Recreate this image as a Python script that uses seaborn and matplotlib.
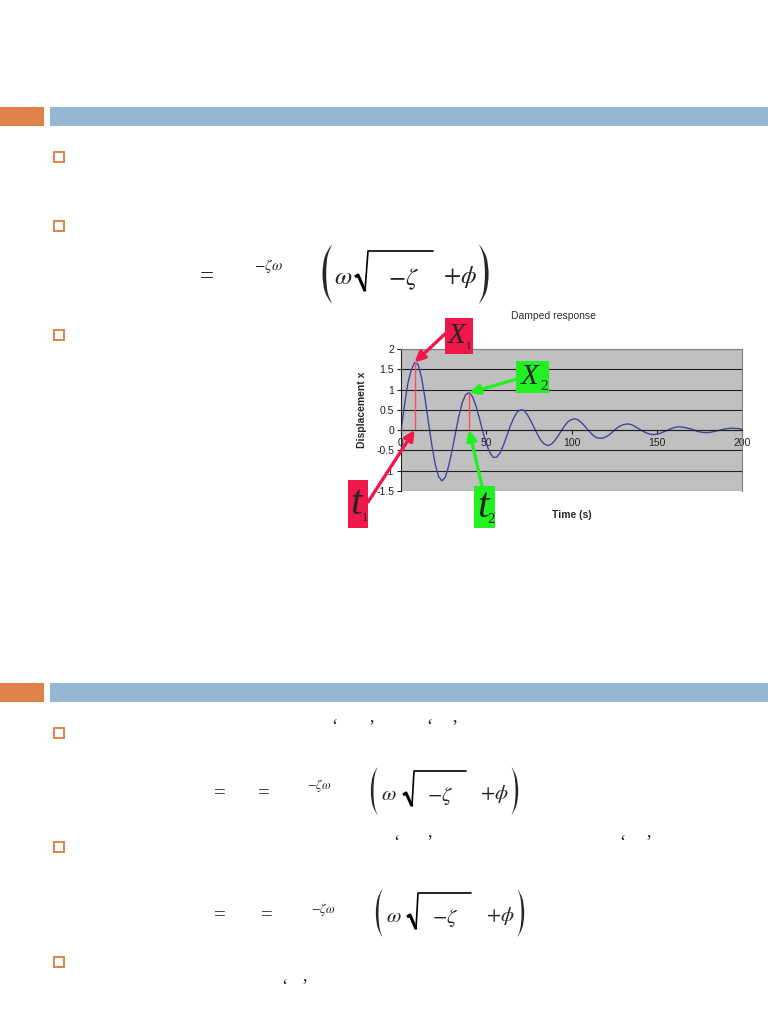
import numpy as np
import matplotlib
matplotlib.use("Agg")
import matplotlib.pyplot as plt
import matplotlib.patheffects as pe
from matplotlib.patches import Rectangle
import seaborn as sns

# Damped response curve (every 2 s)
time_s = list(range(0, 201, 2))
displacement = [
    0.00, 0.60, 1.15, 1.48, 1.67, 1.62, 1.30, 0.81, 0.22, -0.35,
    -0.83, -1.14, -1.25, -1.16, -0.88, -0.49, -0.06, 0.36, 0.69, 0.88,
    0.92, 0.82, 0.59, 0.29, -0.04, -0.33, -0.55, -0.67, -0.67, -0.57,
    -0.38, -0.15, 0.09, 0.29, 0.44, 0.50, 0.49, 0.39, 0.24, 0.07,
    -0.10, -0.25, -0.34, -0.38, -0.35, -0.27, -0.15, -0.02, 0.11, 0.21,
    0.26, 0.28, 0.25, 0.18, 0.09, -0.01, -0.10, -0.17, -0.20, -0.20,
    -0.17, -0.12, -0.05, 0.03, 0.09, 0.13, 0.15, 0.15, 0.12, 0.07,
    0.02, -0.03, -0.07, -0.10, -0.11, -0.10, -0.08, -0.04, -0.01, 0.03,
    0.06, 0.08, 0.08, 0.07, 0.05, 0.03, 0.00, -0.03, -0.05, -0.06,
    -0.06, -0.05, -0.03, -0.01, 0.01, 0.03, 0.04, 0.05, 0.04, 0.04,
    0.02,
]
y_ticks = [-1.5, -1, -0.5, 0, 0.5, 1, 1.5, 2]
y_tick_labels = ["-1.5", "-1", "-0.5", "0", "0.5", "1", "1.5", "2"]
x_ticks = [0, 50, 100, 150, 200]

sns.set_style("white")
plt.rcParams["font.family"] = ["Liberation Sans", "DejaVu Sans"]
plt.rcParams["mathtext.fontset"] = "stix"

ORANGE = "#E0834A"
BLUE = "#95B7D3"
RED = "#F0174B"
GREEN = "#22F022"
SERIF = ["Liberation Serif", "DejaVu Serif"]
# thin out the big parentheses by eroding them with a white outline
THIN = [pe.Normal(), pe.Stroke(linewidth=3.4, foreground="white")]

fig = plt.figure(figsize=(7.68, 10.24), dpi=100)

# background layer in pixel coordinates (slide decorations)
bg = fig.add_axes([0, 0, 1, 1], zorder=0)
bg.set_xlim(0, 768)
bg.set_ylim(1024, 0)
bg.axis("off")

for top in (107, 683):
    bg.add_patch(Rectangle((0, top), 44, 19, color=ORANGE, lw=0))
    bg.add_patch(Rectangle((50, top), 718, 19, color=BLUE, lw=0))

for by in (157, 226, 335, 733, 847, 962):
    bg.add_patch(Rectangle((54, by - 5), 10, 10, fill=False, ec=ORANGE, lw=1.4))


def equation(eqs, y, sup, lp, rp, om, rad, mz, pphi, fs, pfs):
    for ex in eqs:
        bg.text(ex, y, "=", fontsize=fs, family=SERIF, ha="center", va="center")
    bg.text(sup[0], sup[1], r"$-\zeta\omega$", fontsize=fs * 0.6, ha="center", va="center")
    bg.text(lp, y - 3, "(", fontsize=pfs, family=SERIF, ha="center", va="center",
            path_effects=THIN)
    bg.text(rp, y - 3, ")", fontsize=pfs, family=SERIF, ha="center", va="center",
            path_effects=THIN)
    bg.text(om, y, r"$\omega$", fontsize=fs, ha="center", va="center")
    bg.text(mz, y + 2, r"$-\zeta$", fontsize=fs, ha="center", va="center")
    bg.text(pphi, y, r"$+\phi$", fontsize=fs, ha="center", va="center")
    rx, ry = zip(*rad)
    bg.plot(rx[:3], ry[:3], color="black", lw=2.2, solid_capstyle="butt")
    bg.plot(rx[2:], ry[2:], color="black", lw=1.2)


equation([207], 277, (268, 266), 331, 480, 343,
         [(355, 277), (358, 275), (365, 291), (368, 251), (433, 251)],
         403, 460, 18, 64)
equation([220, 264], 794, (319, 786), 378, 511, 389,
         [(403, 795), (406, 793), (412, 806), (414, 771), (466, 771)],
         440, 494, 15, 56)
equation([220, 267], 916, (323, 909), 383, 517, 394,
         [(407, 917), (410, 915), (416, 929), (418, 893), (471, 893)],
         445, 500, 15, 56)

quotes = [(334, 728, "\u2018"), (371, 728, "\u2019"), (429, 728, "\u2018"), (454, 728, "\u2019"),
          (396, 843, "\u2018"), (429, 843, "\u2019"), (622, 843, "\u2018"), (648, 843, "\u2019"),
          (284, 987, "\u2018"), (304, 987, "\u2019")]
for qx, qy, q in quotes:
    bg.text(qx, qy, q, fontsize=13, family=SERIF, ha="center", va="center")

# chart
ax = fig.add_axes([401 / 768, 1 - 491 / 1024, 341 / 768, 142 / 1024], zorder=1)
ax.set_facecolor("#C0C0C0")
sns.lineplot(x=time_s, y=displacement, ax=ax, color="#44449A", lw=1.0)
ax.set_xlim(0, 200)
ax.set_ylim(-1.5, 2)
ax.set_yticks(y_ticks)
ax.set_yticklabels(y_tick_labels)
ax.set_xticks(x_ticks)
ax.grid(axis="y", color="#202020", lw=0.8)
ax.grid(axis="x", visible=False)
ax.spines["bottom"].set_position(("data", 0))
ax.spines["bottom"].set_color("#202020")
ax.spines["left"].set_color("#202020")
for s in ("top", "right"):
    ax.spines[s].set_color("#808080")
    ax.spines[s].set_linewidth(0.8)
ax.tick_params(axis="both", labelsize=7.5, colors="#202020", length=3, width=0.8)
ax.tick_params(axis="y", pad=2, left=True)
ax.tick_params(axis="x", pad=3, bottom=True, direction="out")

i1 = int(np.argmax(displacement))
later = [d if t > 30 else -9 for t, d in zip(time_s, displacement)]
i2 = int(np.argmax(later))
peaks = [(time_s[i1], displacement[i1]), (time_s[i2], displacement[i2])]
for pt, pv in peaks:
    ax.vlines(pt, 0, pv, color="#FF4A64", lw=1.0)

ax.set_ylabel("Displacement x", fontsize=7.5, fontweight="bold")
ax.yaxis.set_label_coords(-0.10, 0.57)
ax.set_xlabel("Time (s)", fontsize=7.5, fontweight="bold")
ax.xaxis.set_label_coords(0.50, -0.135)
ax.text(0.446, 1.232, "Damped response", transform=ax.transAxes, fontsize=7.5,
        color="#303030", ha="center", va="center")

# overlay: labelled boxes and arrows
ov = fig.add_axes([0, 0, 1, 1], zorder=2)
ov.set_xlim(0, 768)
ov.set_ylim(1024, 0)
ov.axis("off")
ov.patch.set_alpha(0)

# (left, top, width, height, colour, letter, subscript, letter size, subscript size)
boxes = [
    (445, 318, 28, 36, RED, "X", "1", 21, 8),
    (516, 361, 33, 32, GREEN, "X", "2", 21, 11),
    (348, 480, 20, 48, RED, "t", "1", 30, 9),
    (474, 486, 21, 42, GREEN, "t", "2", 30, 11),
]
for bx, by, bw, bh, col, letter, sub, fs, sfs in boxes:
    ov.add_patch(Rectangle((bx, by), bw, bh, color=col, lw=0))
    ov.text(bx + bw * 0.42, by + bh * 0.50, letter, fontsize=fs, family=SERIF,
            style="italic", ha="center", va="center")
    ov.text(bx + bw * 0.84, by + bh * 0.80, sub, fontsize=sfs, family=SERIF,
            ha="center", va="center")

arrows = [
    ((446, 333), peaks[0], RED),
    ((368, 502), (peaks[0][0], 0), RED),
    ((517, 379), peaks[1], GREEN),
    ((482, 486), (peaks[1][0], 0), GREEN),
]
for start, target, col in arrows:
    ov.annotate("", xy=target, xycoords=ax.transData, xytext=start, textcoords=ov.transData,
                arrowprops=dict(arrowstyle="-|>", color=col, lw=2.4, mutation_scale=15,
                                shrinkA=0, shrinkB=0))

fig.savefig("out.png", dpi=100)
